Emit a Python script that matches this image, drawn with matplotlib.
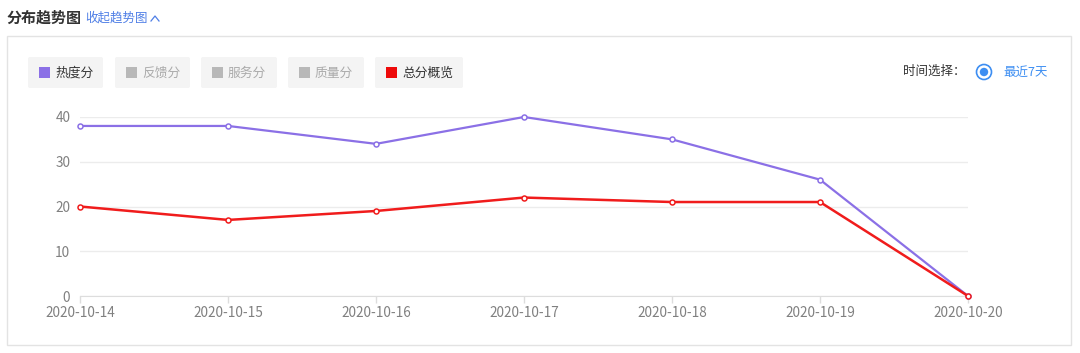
import matplotlib
matplotlib.use("Agg")
import matplotlib.pyplot as plt
from matplotlib.patches import FancyBboxPatch, Rectangle, Circle

plt.rcParams['font.family'] = ['Noto Sans CJK SC', 'DejaVu Sans']

dates = ['2020-10-14', '2020-10-15', '2020-10-16', '2020-10-17',
         '2020-10-18', '2020-10-19', '2020-10-20']
hot_score = [38, 38, 34, 40, 35, 26, 0]
total_score = [20, 17, 19, 22, 21, 21, 0]
y_ticks = [0, 10, 20, 30, 40]

legend_names = ['热度分', '反馈分', '服务分', '质量分', '总分概览']
legend_on = [True, False, False, False, True]

purple = '#8b70e6'
red = '#f01c1c'
blue = '#3d8ef2'

W, H = 1080, 353
fig = plt.figure(figsize=(W / 100, H / 100), dpi=100)
fig.patch.set_facecolor('white')

# background layer in pixel coords (origin top-left)
bg = fig.add_axes([0, 0, 1, 1], zorder=0)
bg.set_xlim(0, W)
bg.set_ylim(H, 0)
bg.axis('off')

bg.text(6, 18, '分布趋势图', fontsize=10.8, fontweight='bold', color='#333333', va='center')
bg.text(85, 18, '收起趋势图', fontsize=9, color='#4f7fe6', va='center')
bg.plot([151, 155, 159], [21, 16, 21], color='#4f7fe6', lw=0.9)

bg.add_patch(Rectangle((7, 36), 1064, 309, fill=False, ec='#e3e3e3', lw=1))

# legend buttons
box_x = [28, 115, 201, 288, 375]
box_w = [75, 75, 76, 76, 88]
colors_on = {0: purple, 4: '#ee0a0a'}
for i, name in enumerate(legend_names):
    x0 = box_x[i]
    bg.add_patch(FancyBboxPatch((x0, 57), box_w[i], 31,
                                boxstyle='round,pad=0,rounding_size=2',
                                fc='#f4f4f4', ec='none'))
    sq = colors_on.get(i, '#b8b8b8')
    bg.add_patch(Rectangle((x0 + 11, 67), 11, 11, fc=sq, ec='none'))
    bg.text(x0 + 27, 73, name, fontsize=9.2,
            color='#333333' if legend_on[i] else '#aaaaaa', va='center')

# time selector
bg.text(966, 71, '时间选择：', fontsize=9, color='#333333', va='center', ha='right')
bg.add_patch(Circle((984, 72), 7.5, fill=False, ec=blue, lw=1.2))
bg.add_patch(Circle((984, 72), 4.2, fc=blue, ec='none'))
bg.text(1003, 72, '最近7天', fontsize=9, color=blue, va='center')

# chart
ax = fig.add_axes([80 / W, 1 - 296 / H, (968 - 80) / W, (296 - 117) / H], zorder=1)
ax.patch.set_alpha(0)
x = list(range(len(dates)))
ax.plot(x, hot_score, color=purple, lw=1.6, marker='o', ms=3.6,
        mfc='white', mec=purple, mew=1.1, clip_on=False, zorder=3)
ax.plot(x, total_score, color=red, lw=1.8, marker='o', ms=3.6,
        mfc='white', mec=red, mew=1.1, clip_on=False, zorder=4)

ax.set_xlim(0, len(dates) - 1)
ax.set_ylim(0, 40)
ax.set_yticks(y_ticks)
ax.set_xticks(x)
ax.set_xticklabels(dates)
ax.grid(axis='y', color='#ececec', lw=1)
ax.set_axisbelow(True)
for s in ['top', 'right', 'left']:
    ax.spines[s].set_visible(False)
ax.spines['bottom'].set_color('#dddddd')
ax.tick_params(axis='x', colors='#dddddd', length=5, width=1, labelcolor='#808080',
               labelsize=9.8, pad=2)
ax.tick_params(axis='y', length=0, labelcolor='#808080', labelsize=9.8, pad=7)

fig.savefig('out.png', dpi=100)
